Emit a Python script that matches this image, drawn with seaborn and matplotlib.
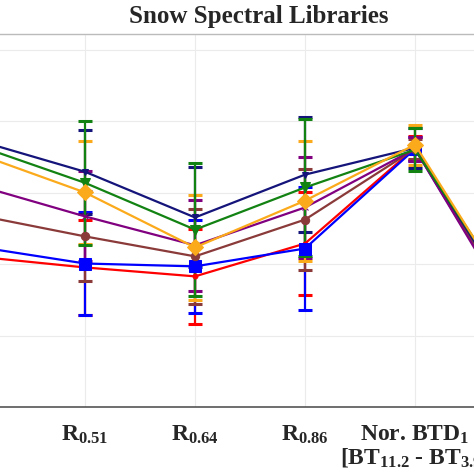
import numpy as np
import pandas as pd
import matplotlib
matplotlib.use("Agg")
import matplotlib.pyplot as plt
import seaborn as sns

# ---------------- data ----------------
categories = ["", r"R$_\mathrm{0.51}$", r"R$_\mathrm{0.64}$", r"R$_\mathrm{0.86}$",
              "Nor. BTD$_\mathrm{1}$\n[BT$_\mathrm{11.2}$ - BT$_\mathrm{3.9}$]", ""]

series_names = ["red", "blue", "brown", "purple", "navy", "green", "orange"]

red_vals    = [0.422, 0.391, 0.366, 0.458, 0.726, 0.223]
blue_vals   = [0.450, 0.402, 0.394, 0.444, 0.723, 0.218]
brown_vals  = [0.539, 0.478, 0.422, 0.525, 0.723, 0.229]
purple_vals = [0.623, 0.534, 0.453, 0.559, 0.723, 0.209]
navy_vals   = [0.749, 0.659, 0.531, 0.651, 0.726, 0.240]
green_vals  = [0.735, 0.628, 0.497, 0.615, 0.721, 0.257]
orange_vals = [0.712, 0.601, 0.447, 0.578, 0.735, 0.246]

red_err    = [0.13, 0.134, 0.134, 0.144, 0.034, 0.03]
blue_err   = [0.15, 0.145, 0.131, 0.173, 0.034, 0.03]
brown_err  = [0.13, 0.126, 0.134, 0.142, 0.028, 0.03]
purple_err = [0.13, 0.126, 0.128, 0.142, 0.034, 0.03]
navy_err   = [0.12, 0.117, 0.140, 0.162, 0.056, 0.03]
green_err  = [0.17, 0.173, 0.187, 0.193, 0.061, 0.03]
orange_err = [0.15, 0.145, 0.148, 0.168, 0.056, 0.03]

values = dict(red=red_vals, blue=blue_vals, brown=brown_vals, purple=purple_vals,
              navy=navy_vals, green=green_vals, orange=orange_vals)
errors = dict(red=red_err, blue=blue_err, brown=brown_err, purple=purple_err,
              navy=navy_err, green=green_err, orange=orange_err)

colors = dict(red="#ff0000", blue="#0000ff", brown="#8b3a3a", purple="#800080",
              navy="#14147a", green="#128212", orange="#fbaa1c")
markers = dict(red="o", blue="s", brown="o", purple="x", navy="v", green="v", orange="D")
msizes = dict(red=3.5, blue=8, brown=6, purple=4, navy=5, green=7, orange=8)

x = np.arange(len(categories))
rows = []
for s in series_names:
    for i, v in enumerate(values[s]):
        rows.append(dict(series=s, x=x[i], value=v, err=errors[s][i]))
df = pd.DataFrame(rows)

# ---------------- style ----------------
sns.set_style("whitegrid", {"grid.color": "#ebebeb", "axes.edgecolor": "#555555"})
plt.rcParams["font.family"] = ["Liberation Serif", "DejaVu Serif"]
plt.rcParams["mathtext.fontset"] = "custom"
plt.rcParams["mathtext.rm"] = "Liberation Serif:bold"
plt.rcParams["mathtext.it"] = "Liberation Serif:bold:italic"
plt.rcParams["mathtext.bf"] = "Liberation Serif:bold"

fig = plt.figure(figsize=(4.74, 4.74), dpi=100)
W = H = 474.0
ax = fig.add_axes([-80 / W, 67 / H, 660 / W, 373 / H])

# error bars
err_order = ["red", "blue", "brown", "purple", "orange", "navy", "green"]
for s in err_order:
    d = df[df.series == s]
    ax.errorbar(d.x, d.value, yerr=d.err, fmt="none", ecolor=colors[s],
                elinewidth=1.6, capsize=5, capthick=2.2, zorder=2)

# lines with markers
line_order = ["red", "blue", "brown", "purple", "navy", "green", "orange"]
for s in line_order:
    d = df[df.series == s]
    sns.lineplot(data=d, x="x", y="value", color=colors[s], marker=markers[s],
                 markersize=msizes[s], markeredgecolor=colors[s], linewidth=1.6,
                 ax=ax, zorder=3, legend=False)

ax.set_xlim(-0.5, len(categories) - 0.5)
ax.set_ylim(0, 1.045)
ax.set_yticks(np.arange(0, 1.01, 0.2))
ax.set_yticklabels([])
ax.set_xticks(x)
ax.set_xticklabels(categories, fontsize=17, fontweight="bold", linespacing=1.0)
ax.set_xlabel("")
ax.set_ylabel("")
ax.grid(True, color="#ebebeb", linewidth=0.8)
ax.tick_params(axis="x", length=3, width=0.8, color="#888888", pad=9, direction="out")
ax.tick_params(axis="y", length=0)
ax.spines["bottom"].set_color("#555555")
ax.spines["bottom"].set_linewidth(1.2)
ax.spines["top"].set_color("#bbbbbb")
ax.spines["top"].set_linewidth(1.0)
ax.spines["right"].set_visible(False)
ax.spines["left"].set_visible(False)

fig.text(259 / W, 1 - 17 / H, "Snow Spectral Libraries", ha="center", va="center",
         fontsize=18, fontweight="bold", family=["Liberation Serif", "DejaVu Serif"])

fig.savefig("out.png", dpi=100)
